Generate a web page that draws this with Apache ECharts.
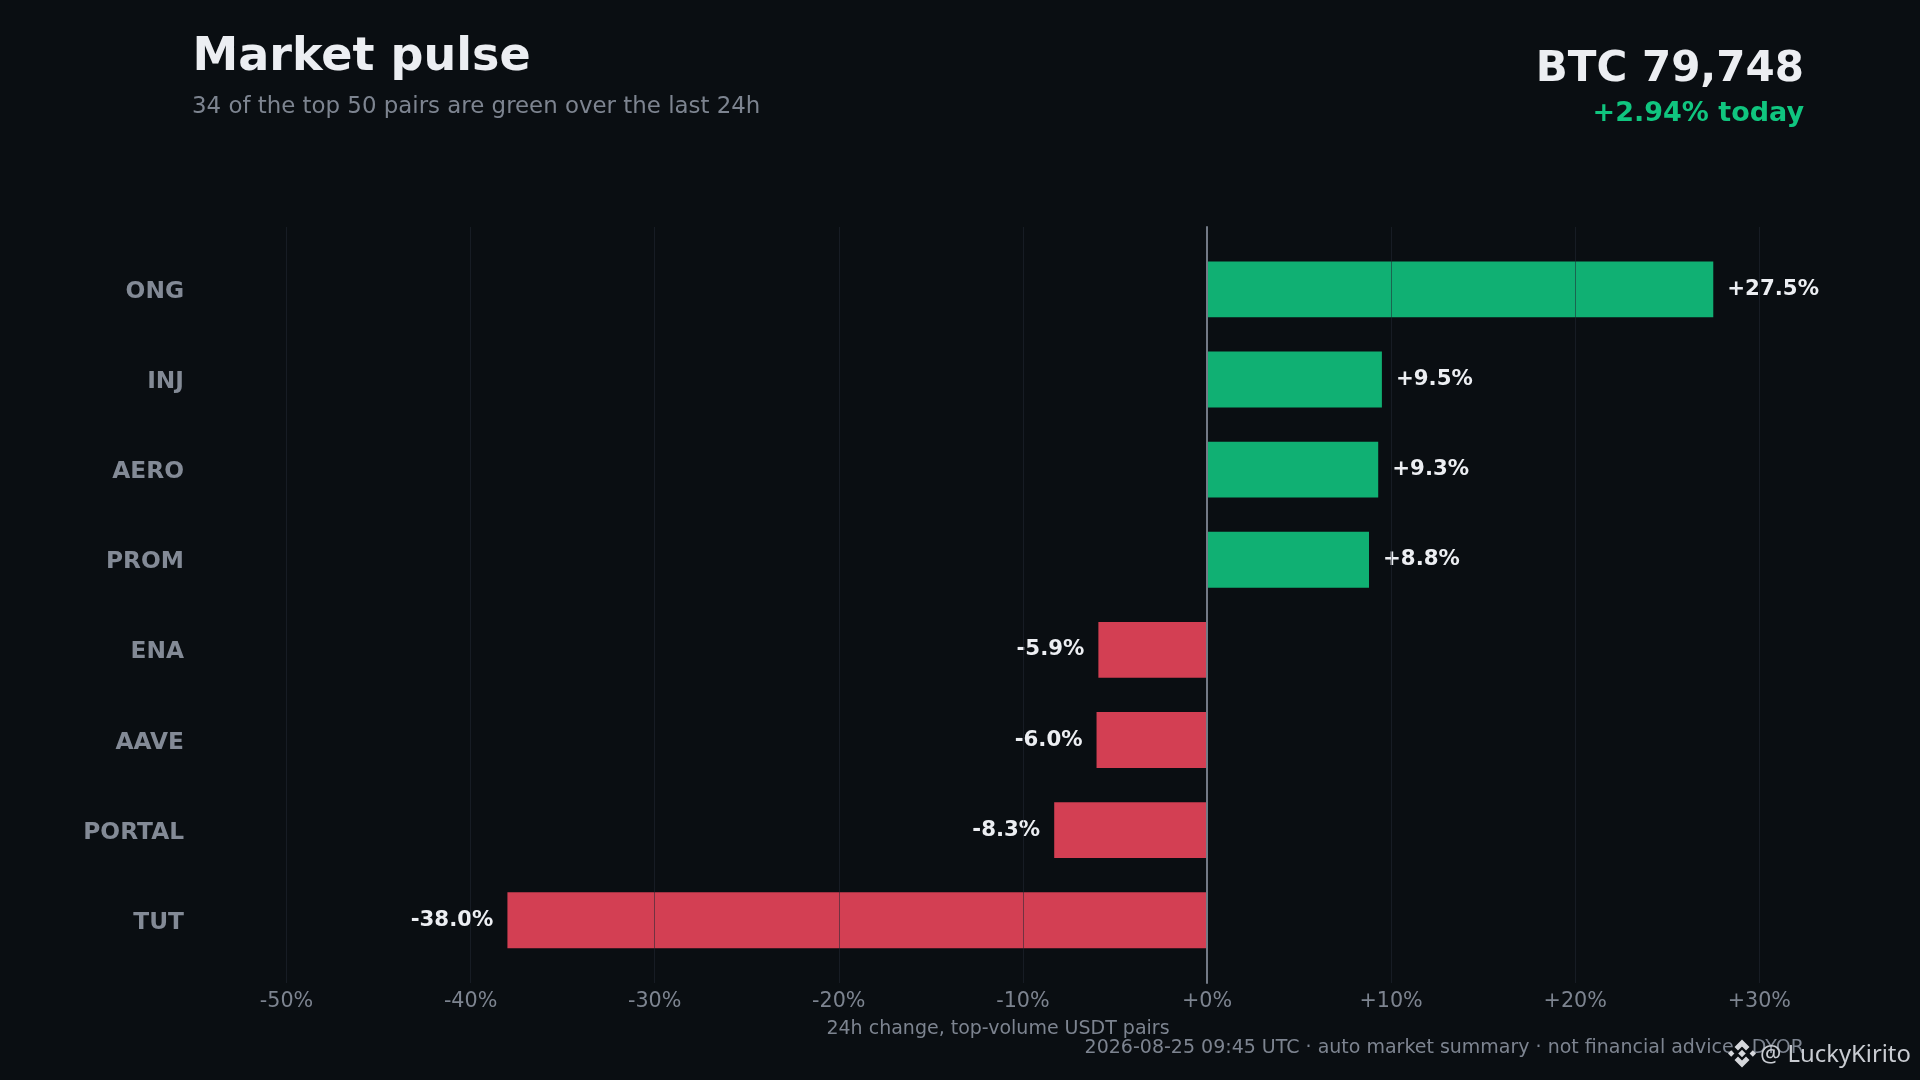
<!DOCTYPE html>
<html><head><meta charset="utf-8">
<style>html,body{margin:0;padding:0;background:#0a0e12}#c{width:1920px;height:1080px}</style>
<script src="https://cdn.jsdelivr.net/npm/echarts@6/dist/echarts.min.js"></script>
</head><body><div id="c"></div>
<script>
const categories = ['ONG','INJ','AERO','PROM','ENA','AAVE','PORTAL','TUT'];
const changes = [27.5, 9.5, 9.3, 8.8, -5.9, -6.0, -8.3, -38.0];
const xTicks = {min:-50, max:30, interval:10};
const titleText = 'Market pulse';
const subtitleText = '34 of the top 50 pairs are green over the last 24h';
const btcText = 'BTC 79,748';
const btcChange = '+2.94% today';
const axisNote = '24h change, top-volume USDT pairs';
const footerText = '2026-08-25 09:45 UTC · auto market summary · not financial advice · DYOR';
const watermark = '@ LuckyKirito';

const F = '"DejaVu Sans"';
const fmtTick = v => (v >= 0 ? '+' : '') + v + '%';
const fmtVal = v => (v >= 0 ? '+' : '') + v.toFixed(1) + '%';
const txt = (x, y, text, size, weight, fill, align, family) => ({
  type:'text', x, y, silent:true, z:20,
  style:{text, x:0, y:0, fill, align:align||'left', verticalAlign:'middle', font: `${weight} ${size}px ${family||F}`}
});
const poly = (pts) => ({type:'polygon', x:1728, y:1039.5, silent:true, z:21, shape:{points:pts}, style:{fill:'#d5d7db'}});

const chart = echarts.init(document.getElementById('c'), null, {renderer:'canvas'});
chart.setOption({
  animation:false,
  backgroundColor:'#0a0e12',
  textStyle:{fontFamily:F},
  grid:[
    {left:286.5, width:1472.8, top:244.3, height:721},
    {left:286.5, width:1472.8, top:227, height:756}
  ],
  xAxis:[
    {gridIndex:0, type:'value', min:xTicks.min, max:xTicks.max, interval:xTicks.interval, show:false},
    {gridIndex:1, type:'value', min:xTicks.min, max:xTicks.max, interval:xTicks.interval, z:10, position:'bottom',
      axisLine:{show:false}, axisTick:{show:false},
      axisLabel:{formatter:fmtTick, color:'#7d8490', fontSize:20.7, fontFamily:F, margin:8, hideOverlap:false},
      splitLine:{show:true, lineStyle:{color:'#222833', opacity:0.55, width:1}}}
  ],
  yAxis:[
    {gridIndex:0, type:'category', data:categories, inverse:true,
      axisLine:{show:false}, axisTick:{show:false}, splitLine:{show:false},
      axisLabel:{color:'#838a96', fontSize:23.3, fontWeight:'bold', fontFamily:F, margin:102.5, align:'right', verticalAlign:'top', lineHeight:5}},
    {gridIndex:1, type:'value', min:0, max:1, z:11, splitLine:{show:false}, axisTick:{show:false}, axisLabel:{show:false},
      axisLine:{show:true, onZero:true, lineStyle:{color:'#737a86', width:2}}}
  ],
  series:[{
    type:'bar', xAxisIndex:0, yAxisIndex:0, z:2, barWidth:'62%',
    data: changes.map(v => ({
      value:v,
      itemStyle:{color: v >= 0 ? '#10b073' : '#d33f53'},
      label:{position: v >= 0 ? 'right' : 'left'}
    })),
    label:{show:true, distance:14, color:'#eceef2', fontSize:21.3, fontWeight:'bold', fontFamily:F, formatter:p => fmtVal(p.value)}
  }],
  graphic:[
    txt(192.5,58,titleText,46,'bold','#eceef2'),
    txt(192,107.5,subtitleText,22.9,'normal','#7d8490'),
    txt(1804,70,btcText,42,'bold','#eceef2','right'),
    txt(1804,114,btcChange,27,'bold','#10c57f','right'),
    txt(998,1029,axisNote,19,'normal','#7d8490','center'),
    txt(1804,1048,footerText,19,'normal','#7d8490','right'),
    txt(1760,1055,watermark,23.8,'normal','#c9ccd2','left','"Noto Sans"'),
    poly([[14,0],[21.5,7.5],[18,11],[14,7],[10,11],[6.5,7.5]]),
    poly([[3.2,10.8],[6.4,14],[3.2,17.2],[0,14]]),
    poly([[24.8,10.8],[28,14],[24.8,17.2],[21.6,14]]),
    poly([[14,10.2],[17.8,14],[14,17.8],[10.2,14]]),
    poly([[18,17],[21.5,20.5],[14,28],[6.5,20.5],[10,17],[14,21]])
  ]
});
</script></body></html>
